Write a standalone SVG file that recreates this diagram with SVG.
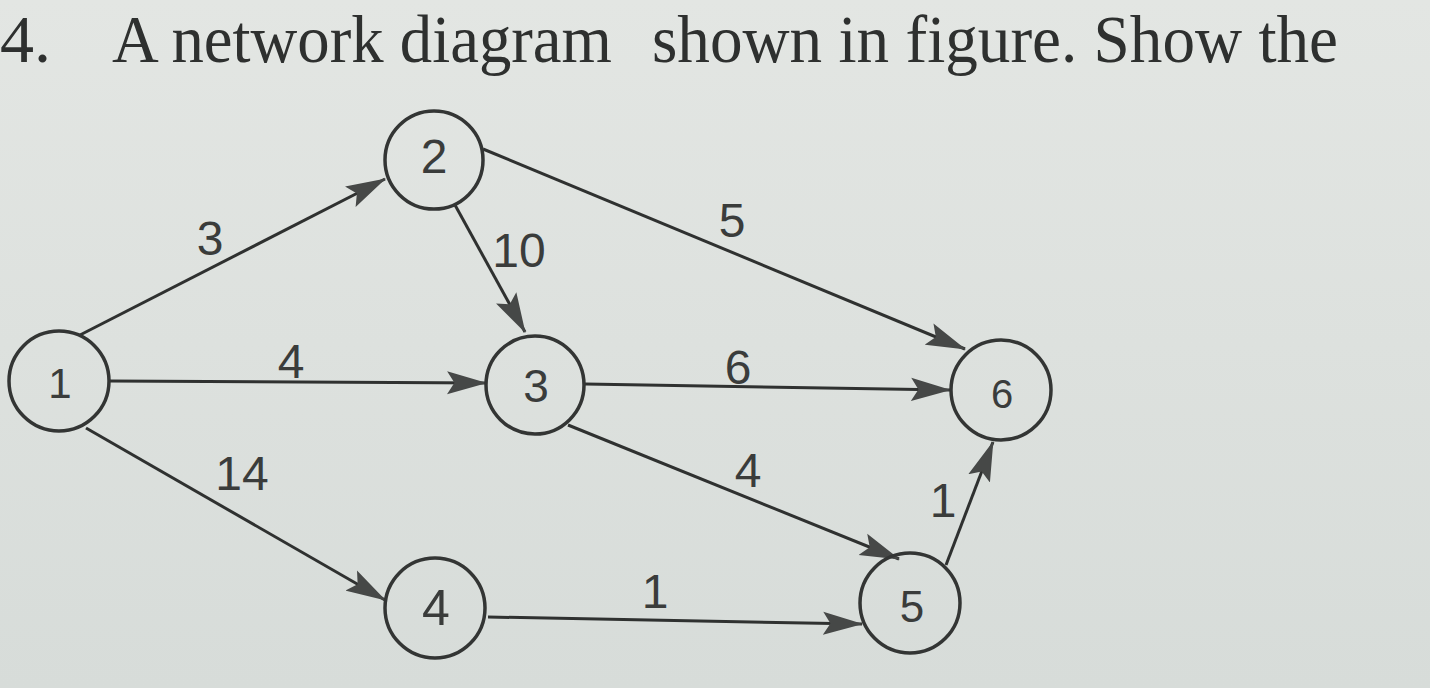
<svg xmlns="http://www.w3.org/2000/svg" width="1430" height="688" viewBox="0 0 1430 688">
<defs>
<linearGradient id="paper" x1="0" y1="0" x2="0" y2="1">
<stop offset="0" stop-color="#e3e6e3"/>
<stop offset="1" stop-color="#d7dcd9"/>
</linearGradient>
<marker id="arr" markerUnits="userSpaceOnUse" markerWidth="40" markerHeight="24" viewBox="0 0 38 22" refX="37" refY="11" orient="auto">
<path d="M0,0 L38,11 L0,22 L7,11 Z" fill="#464847"/>
</marker>
<style>
.title{font-family:"Liberation Serif","Times New Roman",serif;font-size:68px;fill:#2e302f}
.node circle{fill:none;stroke:#333534;stroke-width:3.5}
.node text{font-family:"Liberation Sans",Arial,sans-serif;fill:#3a3c3b;text-anchor:middle}
.edge line{stroke:#2f3130;stroke-width:3;marker-end:url(#arr)}
.lbl{font-family:"Liberation Sans",Arial,sans-serif;font-size:48px;fill:#3a3c3b;text-anchor:middle}
</style>
</defs>
<rect x="0" y="0" width="1430" height="688" fill="url(#paper)"/>
<g id="title">
<text class="title" x="0" y="62">4.</text>
<text class="title" x="112" y="62" textLength="500" lengthAdjust="spacingAndGlyphs">A network diagram</text>
<text class="title" x="652" y="62" textLength="686" lengthAdjust="spacingAndGlyphs">shown in figure. Show the</text>
</g>
<g id="connectors" class="edge">
<line id="e12" x1="80" y1="335" x2="385" y2="179"/>
<line id="e26" x1="483" y1="149" x2="965" y2="349"/>
<line id="e23" x1="455" y1="205" x2="525" y2="332"/>
<line id="e13" x1="110" y1="381" x2="486" y2="383"/>
<line id="e36" x1="585" y1="384" x2="950" y2="390"/>
<line id="e35" x1="568" y1="425" x2="899" y2="559"/>
<line id="e14" x1="86" y1="428" x2="385" y2="600"/>
<line id="e45" x1="488" y1="617" x2="862" y2="624"/>
<line id="e56" x1="946" y1="565" x2="993" y2="442"/>
</g>
<g id="edge-labels">
<text class="lbl" x="210" y="255">3</text>
<text class="lbl" x="519" y="267">10</text>
<text class="lbl" x="732" y="237">5</text>
<text class="lbl" x="291" y="378">4</text>
<text class="lbl" x="738" y="384">6</text>
<text class="lbl" x="748" y="487">4</text>
<text class="lbl" x="242" y="490">14</text>
<text class="lbl" x="655" y="608">1</text>
<text class="lbl" x="943" y="517">1</text>
</g>
<g id="node1" class="node"><circle cx="59" cy="381" r="50"/><text x="60" y="398" font-size="42">1</text></g>
<g id="node2" class="node"><circle cx="434" cy="160" r="49"/><text x="434" y="173" font-size="48">2</text></g>
<g id="node3" class="node"><circle cx="535" cy="385" r="49"/><text x="536" y="402" font-size="46">3</text></g>
<g id="node4" class="node"><circle cx="435" cy="608" r="50"/><text x="436" y="625" font-size="50">4</text></g>
<g id="node5" class="node"><circle cx="910" cy="603" r="50"/><text x="912" y="622" font-size="44">5</text></g>
<g id="node6" class="node"><circle cx="1001" cy="390" r="50"/><text x="1002" y="408" font-size="40">6</text></g>
</svg>
